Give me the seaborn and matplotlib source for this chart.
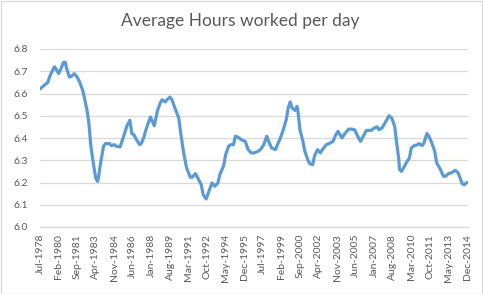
import matplotlib
matplotlib.use("Agg")
import matplotlib.pyplot as plt
from matplotlib.ticker import FormatStrFormatter
import seaborn as sns
import pandas as pd
import numpy as np

# Data (month, average hours worked per day)
months = [
    "1978-07", "1978-10", "1979-03", "1979-05", "1979-09", "1979-10", "1980-02", "1980-04",
    "1980-07", "1980-09", "1980-10", "1981-01", "1981-03", "1981-06", "1981-09", "1981-12",
    "1982-03", "1982-07", "1982-09", "1982-11", "1983-02", "1983-04", "1983-06", "1983-07",
    "1983-09", "1983-12", "1984-02", "1984-06", "1984-08", "1984-11", "1985-01", "1985-05",
    "1985-08", "1985-12", "1986-03", "1986-05", "1986-07", "1986-10", "1987-01", "1987-03",
    "1987-05", "1987-08", "1987-12", "1988-02", "1988-04", "1988-07", "1988-10", "1988-12",
    "1989-03", "1989-05", "1989-08", "1989-10", "1990-01", "1990-05", "1990-07", "1990-10",
    "1991-01", "1991-05", "1991-07", "1991-10", "1992-01", "1992-04", "1992-06", "1992-09",
    "1992-11", "1993-01", "1993-03", "1993-06", "1993-09", "1993-11", "1994-03", "1994-05",
    "1994-08", "1994-10", "1995-01", "1995-03", "1995-05", "1995-08", "1995-10", "1996-01",
    "1996-04", "1996-07", "1996-10", "1997-02", "1997-05", "1997-08", "1997-11", "1998-01",
    "1998-04", "1998-08", "1998-10", "1999-01", "1999-04", "1999-07", "1999-09", "1999-11",
    "2000-01", "2000-04", "2000-06", "2000-07", "2000-09", "2000-12", "2001-02", "2001-05",
    "2001-07", "2001-10", "2001-12", "2002-03", "2002-06", "2002-08", "2002-12", "2003-03",
    "2003-07", "2003-09", "2003-12", "2004-04", "2004-07", "2004-11", "2005-02", "2005-05",
    "2005-09", "2005-11", "2006-02", "2006-05", "2006-08", "2006-10", "2007-01", "2007-04",
    "2007-06", "2007-09", "2007-12", "2008-03", "2008-04", "2008-07", "2008-10", "2008-12",
    "2009-02", "2009-03", "2009-05", "2009-08", "2009-10", "2010-01", "2010-03", "2010-06",
    "2010-09", "2010-11", "2011-02", "2011-04", "2011-07", "2011-09", "2011-12", "2012-03",
    "2012-05", "2012-08", "2012-12", "2013-02", "2013-05", "2013-08", "2013-12", "2014-03",
    "2014-05", "2014-07", "2014-09", "2014-12", "2015-01",
]
hours = [
    6.62, 6.632, 6.65, 6.677, 6.715, 6.72, 6.69, 6.707,
    6.74, 6.74, 6.715, 6.674, 6.677, 6.689, 6.674, 6.647,
    6.61, 6.527, 6.467, 6.363, 6.273, 6.22, 6.205, 6.227,
    6.288, 6.363, 6.375, 6.375, 6.366, 6.37, 6.363, 6.36,
    6.40, 6.455, 6.48, 6.42, 6.415, 6.39, 6.37, 6.378,
    6.40, 6.445, 6.494, 6.475, 6.455, 6.52, 6.557, 6.572,
    6.562, 6.572, 6.584, 6.572, 6.535, 6.49, 6.422, 6.333,
    6.265, 6.223, 6.224, 6.24, 6.216, 6.19, 6.145, 6.126,
    6.15, 6.175, 6.198, 6.183, 6.198, 6.235, 6.276, 6.325,
    6.363, 6.37, 6.37, 6.408, 6.405, 6.396, 6.39, 6.385,
    6.348, 6.333, 6.333, 6.34, 6.35, 6.37, 6.408, 6.385,
    6.355, 6.348, 6.37, 6.40, 6.437, 6.482, 6.535, 6.562,
    6.535, 6.524, 6.542, 6.52, 6.437, 6.385, 6.34, 6.303,
    6.285, 6.28, 6.32, 6.348, 6.333, 6.348, 6.37, 6.375,
    6.385, 6.408, 6.43, 6.40, 6.42, 6.44, 6.44, 6.437,
    6.40, 6.385, 6.41, 6.434, 6.434, 6.434, 6.445, 6.45,
    6.437, 6.445, 6.467, 6.49, 6.50, 6.49, 6.452, 6.378,
    6.31, 6.258, 6.25, 6.273, 6.29, 6.31, 6.355, 6.366,
    6.369, 6.375, 6.366, 6.378, 6.42, 6.408, 6.378, 6.34,
    6.288, 6.265, 6.228, 6.228, 6.24, 6.243, 6.255, 6.243,
    6.22, 6.195, 6.19, 6.20, 6.20,
]
title = "Average Hours worked per day"
tick_start = "1978-07-01"
tick_step_months = 19
n_ticks = 24
y_ticks = [6.0, 6.1, 6.2, 6.3, 6.4, 6.5, 6.6, 6.7, 6.8]

sns.set_theme(style="white")
plt.rcParams['font.family'] = ['Lato', 'DejaVu Sans']

df = pd.DataFrame({"date": pd.to_datetime(months), "hours": hours})

W, H = 483, 294
fig = plt.figure(figsize=(W / 100, H / 100), dpi=100)
fig.patch.set_facecolor("white")
ax = fig.add_axes([40 / W, 1 - 227 / H, (468 - 40) / W, (227 - 49) / H])

sns.lineplot(data=df, x="date", y="hours", ax=ax, color="#5B9BD5", linewidth=2.3)

ticks = pd.date_range(tick_start, periods=n_ticks, freq=f"{tick_step_months}MS")
ax.set_xticks(ticks)
ax.set_xticklabels([t.strftime("%b-%Y") for t in ticks], rotation=90,
                   fontsize=7.5, color="#595959")
ax.set_xlim(pd.Timestamp(tick_start), pd.Timestamp("2015-01-01"))
ax.set_ylim(6.0, 6.8)
ax.set_yticks(y_ticks)
ax.yaxis.set_major_formatter(FormatStrFormatter('%.1f'))
ax.tick_params(axis='y', labelsize=7.5, labelcolor="#595959", length=0, pad=9)
ax.tick_params(axis='x', length=0, pad=5)
ax.grid(axis='y', color='#D9D9D9', linewidth=0.9)
ax.set_axisbelow(True)
for s in ['top', 'right', 'left']:
    ax.spines[s].set_visible(False)
ax.spines['bottom'].set_color('#D9D9D9')
ax.spines['bottom'].set_linewidth(0.9)
ax.set_xlabel('')
ax.set_ylabel('')

fig.text(0.497, 1 - 21 / H, title, ha='center', va='center',
         fontsize=12.5, color='#595959', fontweight='normal')

fig.add_artist(plt.Rectangle((0.5 / W, 0.5 / H), 1 - 1.5 / W, 1 - 1.5 / H,
                             transform=fig.transFigure, fill=False,
                             edgecolor='#D9D9D9', linewidth=0.9))

fig.savefig("out.png", dpi=100)
